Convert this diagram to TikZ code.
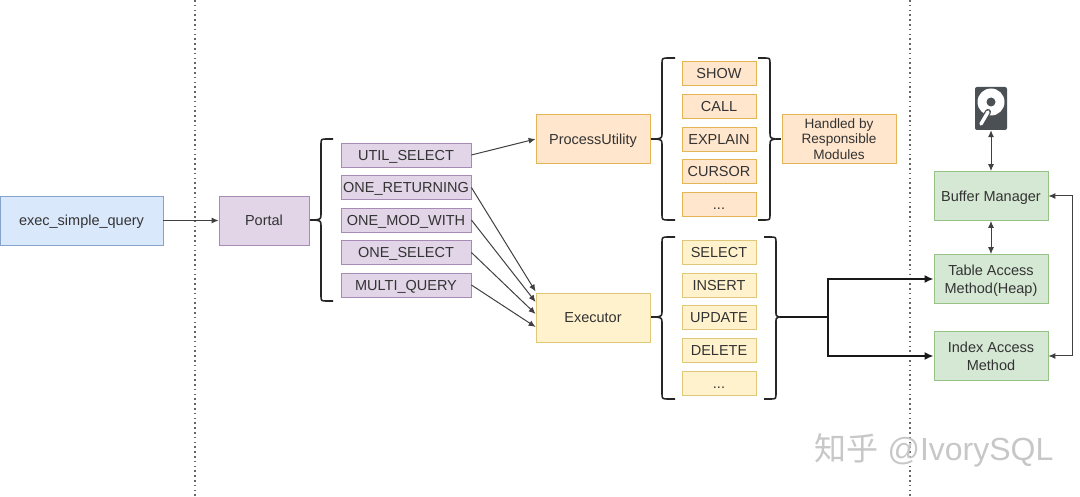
\documentclass[tikz,border=0pt]{standalone}
\usepackage{fontspec}
\setmainfont{Liberation Sans}
\newfontfamily\cjk{Noto Sans CJK SC}
\usetikzlibrary{arrows.meta}
\definecolor{bluefill}{HTML}{DAE8FC}
\definecolor{blueline}{HTML}{86A3CB}
\definecolor{purplefill}{HTML}{E1D5E7}
\definecolor{purpleline}{HTML}{A68BB4}
\definecolor{orangefill}{HTML}{FFE6CC}
\definecolor{orangeline}{HTML}{E5B555}
\definecolor{yellowfill}{HTML}{FFF2CC}
\definecolor{yellowline}{HTML}{E0C878}
\definecolor{greenfill}{HTML}{D5E8D4}
\definecolor{greenline}{HTML}{98C184}
\definecolor{diskgray}{HTML}{4B5054}
\tikzset{
  block/.style={draw, line width=0.8pt, text=black!80, font=\fontsize{14.5}{18}\selectfont,
    align=center, minimum width=114pt, minimum height=49pt, inner sep=0pt},
  oneline/.style={text height=12pt, text depth=1.5pt},
  item/.style={block, oneline, minimum height=24pt},
  arrow/.style={draw=black!75, line width=1pt, -{Latex[length=7pt,width=6pt]}},
  both/.style={arrow, {Latex[length=7pt,width=6pt]}-{Latex[length=7pt,width=6pt]}},
  heavy/.style={draw=black!90, line width=2pt},
  curly/.style={draw=black!85, line width=1.6pt, line join=round},
  sep/.style={draw=black!60, line width=1.6pt, dash pattern=on 1.6pt off 3.2pt}
}
\newcommand{\threedots}{...}
% base x, spine x, tip x, top y, bottom y, middle y
\newcommand{\curly}[6]{
  \draw[curly] (#1,#4) -- ({(#1+#2)/2},#4) .. controls (#2,#4) .. (#2,#4+6) -- (#2,#6-7)
     .. controls (#2,#6-1) .. ({#2+(#3-#2)*0.5},#6)
     .. controls (#2,#6+1) .. (#2,#6+7)
     -- (#2,#5-6) .. controls (#2,#5) .. ({(#1+#2)/2},#5) -- (#1,#5);
  \draw[curly] ({#2+(#3-#2)*0.5},#6) -- (#3,#6);
}
\begin{document}
\begin{tikzpicture}[x=1pt,y=-1pt]
  \useasboundingbox (0,0) rectangle (1080,497);
  \draw[sep] (195,0) -- (195,497);
  \draw[sep] (910,0) -- (910,497);

  \node[block, oneline, draw=blueline, fill=bluefill, minimum width=163pt] (query) at (81.5,220.5) {exec\_simple\_query};
  \node[block, oneline, draw=purpleline, fill=purplefill, minimum width=90pt] (portal) at (264,220.5) {Portal};
  \node[block, oneline, draw=orangeline, fill=orangefill] (process) at (593,139) {ProcessUtility};
  \node[block, oneline, draw=yellowline, fill=yellowfill] (executor) at (593,317.5) {Executor};
  \node[block, draw=orangeline, fill=orangefill, font=\fontsize{13.6}{15.5}\selectfont] (handled) at (839,139) {Handled by\\Responsible\\Modules};
  \node[block, oneline, draw=greenline, fill=greenfill] (buffer) at (991,196) {Buffer Manager};
  \node[block, draw=greenline, fill=greenfill, text depth=0pt] (table) at (991,279) {Table Access\\Method(Heap)};
  \node[block, draw=greenline, fill=greenfill] (index) at (991,356) {Index Access\\Method};

  \foreach \name/\y/\txt in {util/155/UTIL\_SELECT, oneret/187.5/ONE\_RETURNING, onemod/220/ONE\_MOD\_WITH,
      onesel/252.5/ONE\_SELECT, multi/285/MULTI\_QUERY}
    \node[item, draw=purpleline, fill=purplefill, minimum width=130pt] (\name) at (406,\y) {\txt};
  \foreach \name/\y/\txt in {show/73/SHOW, call/106/CALL, explain/139/EXPLAIN, cursor/171/CURSOR, moreu/204/\threedots}
    \node[item, draw=orangeline, fill=orangefill, minimum width=74pt] (\name) at (719,\y) {\txt};
  \foreach \name/\y/\txt in {select/252/SELECT, insert/285/INSERT, update/317/UPDATE, delete/350/DELETE, moree/383/\threedots}
    \node[item, draw=yellowline, fill=yellowfill, minimum width=74pt] (\name) at (719,\y) {\txt};

  % disk
  \node[fill=diskgray, rounded corners=2pt, minimum width=32pt, minimum height=43pt, inner sep=0pt] (disk) at (991,108.5) {};
  \fill[white] (991,102) circle (13.5pt);
  \fill[diskgray] (991,102) circle (4.5pt);
  \draw[diskgray, line width=6pt, line cap=round] (988,112) -- (981,124);
  \draw[white, line width=3.5pt, line cap=round] (988,112) -- (981,124);

  % braces
  \curly{333}{321}{310}{139}{301}{220}
  \curly{675}{662}{651}{58}{220}{139}
  \curly{758}{770}{781}{58}{220}{139}
  \curly{675}{662}{651}{237}{399}{317}
  \curly{764}{776}{781}{237}{399}{317}

  \draw[arrow] (query.east) -- (portal.west);
  \draw[arrow] (util.east) -- (process.west);
  \foreach \src/\off in {oneret/26, onemod/15.5, onesel/3.5, multi/-9.5}
    \draw[arrow] (\src.east) -- ([yshift=\off pt]executor.west);

  \coordinate (tail) at (780,317);
  \coordinate (fork) at (828,317);
  \draw[heavy] (tail) -- (fork);
  \draw[heavy, -{Latex[length=9pt,width=8pt]}] (fork) |- (table.west);
  \draw[heavy, -{Latex[length=9pt,width=8pt]}] (fork) |- (index.west);

  \draw[both] (disk.south) -- (buffer.north);
  \draw[both] (buffer.south) -- (table.north);
  \draw[both] (buffer.east) -- (1072,196) -- (1072,356) -- (index.east);

  \node[text=black!22, font=\fontsize{32}{34}\selectfont, inner sep=0pt] (mark) at (934,450) {{\cjk 知乎} @IvorySQL};
\end{tikzpicture}
\end{document}
